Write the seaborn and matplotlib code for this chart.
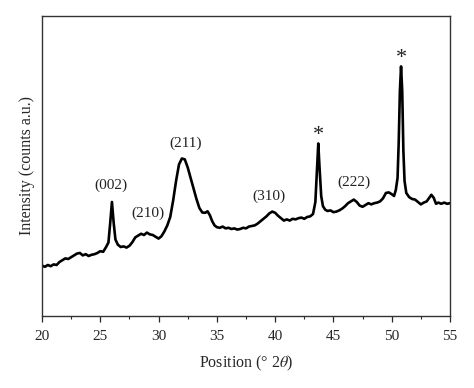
import matplotlib
matplotlib.use("Agg")
import matplotlib.pyplot as plt
import seaborn as sns
import pandas as pd
from matplotlib.ticker import MultipleLocator

two_theta = [20.0, 20.25, 20.5, 20.75, 21.0, 21.25, 21.5, 21.75, 22.0, 22.25, 22.5, 22.75,
             23.0, 23.25, 23.5, 23.75, 24.0, 24.25, 24.5, 24.75, 25.0, 25.25, 25.5, 25.7,
             25.85, 26.0, 26.15, 26.3, 26.5, 26.75, 27.0, 27.25, 27.5, 27.75, 28.0, 28.25,
             28.5, 28.75, 29.0, 29.25, 29.5, 29.75, 30.0, 30.25, 30.5, 30.75, 31.0, 31.25,
             31.5, 31.75, 32.0, 32.25, 32.5, 32.75, 33.0, 33.25, 33.5, 33.75, 34.0, 34.2,
             34.4, 34.6, 34.8, 35.0, 35.25, 35.5, 35.75, 36.0, 36.25, 36.5, 36.75, 37.0,
             37.25, 37.5, 37.75, 38.0, 38.25, 38.5, 38.75, 39.0, 39.25, 39.5, 39.75, 40.0,
             40.25, 40.5, 40.75, 41.0, 41.25, 41.5, 41.75, 42.0, 42.25, 42.5, 42.75, 43.0,
             43.25, 43.45, 43.6, 43.7, 43.8, 43.95, 44.1, 44.3, 44.5, 44.75, 45.0, 45.25,
             45.5, 45.75, 46.0, 46.25, 46.5, 46.75, 47.0, 47.25, 47.5, 47.75, 48.0, 48.25,
             48.5, 48.75, 49.0, 49.25, 49.5, 49.75, 50.0, 50.2, 50.35, 50.5, 50.6, 50.7,
             50.8, 50.9, 51.0, 51.1, 51.25, 51.5, 51.75, 52.0, 52.25, 52.5, 52.75, 53.0,
             53.25, 53.4, 53.6, 53.8, 54.0, 54.25, 54.5, 54.75, 55.0]
intensity = [16.8, 16.4, 17.0, 16.6, 17.2, 17.0, 18.0, 18.6, 19.2, 19.0, 19.6, 20.2,
             20.8, 21.0, 20.2, 20.6, 20.0, 20.4, 20.6, 21.0, 21.6, 21.4, 23.0, 24.5,
             31.0, 38.0, 31.0, 25.5, 23.8, 23.0, 23.2, 22.8, 23.4, 24.6, 26.2, 26.8,
             27.4, 27.0, 27.8, 27.2, 27.0, 26.4, 25.8, 26.6, 28.2, 30.2, 33.0, 38.5,
             45.0, 50.5, 52.5, 52.2, 49.5, 46.0, 42.5, 39.0, 36.0, 34.5, 34.4, 34.9,
             33.6, 31.6, 30.2, 29.6, 29.4, 29.8, 29.2, 29.4, 29.0, 29.2, 28.8, 29.0,
             29.4, 29.2, 29.8, 30.0, 30.2, 30.8, 31.6, 32.4, 33.2, 34.2, 34.8, 34.4,
             33.4, 32.6, 31.8, 32.2, 31.8, 32.4, 32.2, 32.6, 32.8, 32.4, 33.0, 33.2,
             34.0, 38.0, 50.0, 57.5, 50.0, 40.0, 36.6, 35.4, 35.0, 35.2, 34.6, 34.8,
             35.2, 35.8, 36.6, 37.6, 38.2, 38.8, 38.0, 36.8, 36.4, 37.0, 37.6, 37.2,
             37.6, 37.8, 38.2, 39.2, 41.0, 41.2, 40.6, 40.0, 42.0, 46.0, 58.0, 75.0,
             83.2, 75.0, 55.0, 45.0, 41.0, 39.6, 39.0, 38.8, 38.0, 37.2, 37.8, 38.2,
             39.6, 40.4, 39.4, 37.4, 37.8, 37.4, 37.8, 37.4, 37.6]

peak_labels = ["(002)", "(210)", "(211)", "(310)", "(222)", "*", "*"]
label_x = [25.9, 29.05, 32.3, 39.5, 46.75, 43.7, 50.8]
label_y = [43.6, 34.2, 57.7, 40.0, 44.7, 60.3, 85.8]

sns.set_style("ticks")
plt.rcParams["font.family"] = ["Liberation Serif", "DejaVu Serif"]
plt.rcParams["mathtext.fontset"] = "stix"

df = pd.DataFrame({"two_theta": two_theta, "intensity": intensity})

fig = plt.figure(figsize=(4.74, 3.88), dpi=100)
ax = fig.add_axes([0.0886, 0.1856, 0.8608, 0.7732])
sns.lineplot(data=df, x="two_theta", y="intensity", color="black", linewidth=1.9, ax=ax)

for t, x, y in zip(peak_labels, label_x, label_y):
    fs = 16 if t == "*" else 11
    ax.text(x, y, t, ha="center", va="center", fontsize=fs, color="#222222")

ax.set_xlim(20, 55)
ax.set_ylim(0, 100)
ax.xaxis.set_major_locator(MultipleLocator(5))
ax.xaxis.set_minor_locator(MultipleLocator(2.5))
ax.tick_params(axis="x", which="major", direction="out", length=4, width=0.9, labelsize=11, pad=6)
ax.tick_params(axis="x", which="minor", direction="out", length=2.5, width=0.8)
ax.set_yticks([])
for s in ax.spines.values():
    s.set_visible(True)
    s.set_linewidth(1.0)
    s.set_color("#333333")
ax.set_xlabel("Position (° 2$\\theta$)", fontsize=11.5, labelpad=8)
ax.set_ylabel("Intensity (counts a.u.)", fontsize=11.5, labelpad=5)

fig.savefig("out.png", dpi=100)
